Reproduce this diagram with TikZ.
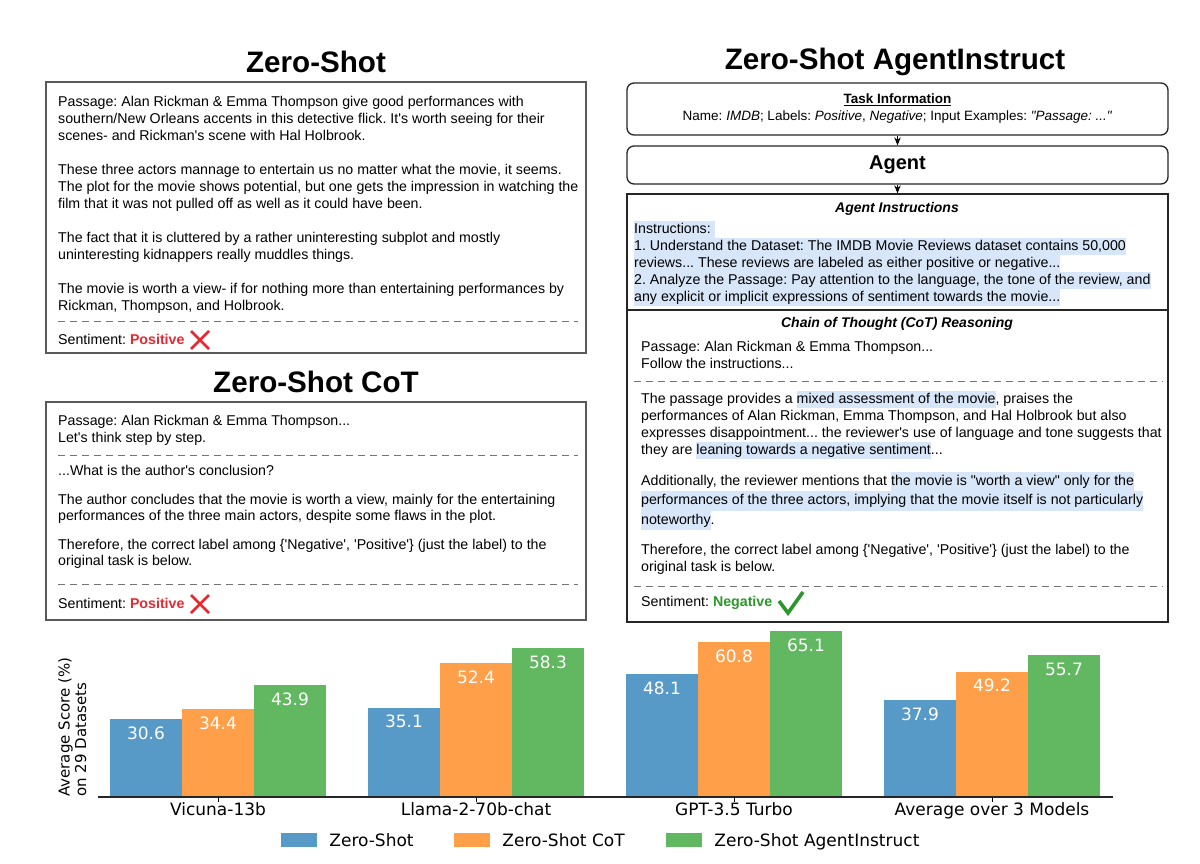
\documentclass[tikz,border=0pt]{standalone}
\usepackage{fontspec}
\setmainfont{Liberation Sans}[Ligatures=TeXOff]
\newfontfamily\chartfont{DejaVu Sans}
\usetikzlibrary{positioning,calc,arrows.meta}
\definecolor{zsblue}{RGB}{87,153,199}
\definecolor{zsorange}{RGB}{255,159,74}
\definecolor{zsgreen}{RGB}{97,184,97}
\definecolor{hlblue}{RGB}{215,230,248}
\definecolor{badred}{RGB}{232,40,48}
\definecolor{goodgreen}{RGB}{43,150,43}
\newcommand{\hlite}[1]{{\fboxsep=0pt\colorbox{hlblue}{\rule[-4.5pt]{0pt}{17pt}#1}}}
\newcommand{\hlwide}[1]{{\fboxsep=0pt\colorbox{hlblue}{\rule[-6pt]{0pt}{19.5pt}#1}}}
\begin{document}
\frenchspacing
\begin{tikzpicture}[x=1pt,y=-1pt,
  title/.style={font=\fontsize{29.6}{34}\selectfont\bfseries},
  plainbox/.style={draw=black!65,line width=1.3pt,inner sep=0pt},
  roundbox/.style={draw=black!85,line width=1.3pt,rounded corners=7pt,inner sep=0pt,minimum width=541pt},
  body/.style={anchor=north west,align=left,inner sep=0pt,font=\fontsize{14.2}{17}\selectfont},
  head/.style={inner sep=0pt,font=\fontsize{14}{17}\selectfont\bfseries\itshape},
  cutline/.style={draw=black!55,line width=0.9pt,dash pattern=on 7pt off 5pt},
  flow/.style={-{Stealth[length=8pt,width=6.5pt]},line width=1.1pt},
  val/.style={text=white,inner sep=0pt,font=\chartfont\fontsize{17}{20}\selectfont},
  cat/.style={anchor=base,inner sep=0pt,font=\chartfont\fontsize{17}{20}\selectfont},
  patch/.style={minimum width=36pt,minimum height=14pt,inner sep=0pt},
  leg/.style={anchor=west,inner sep=0pt,text height=12.5pt,text depth=0pt,font=\chartfont\fontsize{17}{20}\selectfont},
  node distance=12pt]
  \path[fill=white] (0,0) rectangle (1200,864);

  % titles
  \node[title] (tzs) at (316,62) {Zero-Shot};
  \node[title] (tcot) at (316,382) {Zero-Shot CoT};
  \node[title] (tai) at (895,62) {Zero-Shot AgentInstruct};

  % Zero-Shot
  \node[plainbox,minimum width=540pt,minimum height=271pt] (zsbox) at (316,217.5) {};
  \node[body] (zs1) at (58,96.5) {Passage: Alan Rickman \& Emma Thompson give good performances with\\southern/New Orleans accents in this detective flick. It's worth seeing for their\\scenes- and Rickman's scene with Hal Holbrook.};
  \node[body] (zs2) at (58,164.5) {These three actors mannage to entertain us no matter what the movie, it seems.\\The plot for the movie shows potential, but one gets the impression in watching the\\film that it was not pulled off as well as it could have been.};
  \node[body] (zs3) at (58,232.5) {The fact that it is cluttered by a rather uninteresting subplot and mostly\\uninteresting kidnappers really muddles things.};
  \node[body] (zs4) at (58,283.5) {The movie is worth a view- if for nothing more than entertaining performances by\\Rickman, Thompson, and Holbrook.};
  \draw[cutline] (58,321) -- (578,321);
  \node[body] (zsout) at (58,334.5) {Sentiment: \textcolor{badred}{\textbf{Positive}}};
  \draw[badred,line width=2.6pt] (191,331) -- (209,349) (191,349) -- (209,331);

  % Zero-Shot CoT
  \node[plainbox,minimum width=540pt,minimum height=218pt] (cotbox) at (316,511) {};
  \node[body] (cot1) at (58,415.5) {Passage: Alan Rickman \& Emma Thompson...\\Let's think step by step.};
  \draw[cutline] (58,455) -- (578,455);
  \node[body] (cot2) at (58,465.5) {...What is the author's conclusion?};
  \node[body,font=\fontsize{14.2}{16}\selectfont] (cot3) at (58,494.5) {The author concludes that the movie is worth a view, mainly for the entertaining\\performances of the three main actors, despite some flaws in the plot.};
  \node[body,font=\fontsize{14.2}{16}\selectfont] (cot4) at (58,539.5) {Therefore, the correct label among \{'Negative', 'Positive'\} (just the label) to the\\original task is below.};
  \draw[cutline] (58,584) -- (578,584);
  \node[body] (cotout) at (58,598.5) {Sentiment: \textcolor{badred}{\textbf{Positive}}};
  \draw[badred,line width=2.6pt] (191,595) -- (209,613) (191,613) -- (209,595);

  % Zero-Shot AgentInstruct
  \node[roundbox,minimum height=52pt,align=center,font=\fontsize{13.5}{17}\selectfont] (task) at (897.5,109)
    {\underline{\textbf{Task Information}}\\Name: \textit{IMDB}; Labels: \textit{Positive}, \textit{Negative}; Input Examples: \textit{"Passage: ..."}};
  \node[roundbox,minimum height=38pt,font=\fontsize{20}{24}\selectfont\bfseries] (agent) at (897.5,165) {Agent};
  \node[plainbox,draw=black!85,minimum width=541pt,minimum height=428pt] (aibox) at (897.5,408) {};
  \draw[flow] (task) -- (agent);
  \draw[flow] (agent) -- (aibox);
  \draw[draw=black!85,line width=1.3pt] (aibox.west |- 0,310) -- (aibox.east |- 0,310);

  \node[head] (insthead) at (897,209) {Agent Instructions};
  \node[body] (inst) at (634,220.5) {\hlite{Instructions: }\\\hlite{1. Understand the Dataset: The IMDB Movie Reviews dataset contains 50,000}\\\hlite{reviews... These reviews are labeled as either positive or negative...}\\\hlite{2. Analyze the Passage: Pay attention to the language, the tone of the review, and}\\\hlite{any explicit or implicit expressions of sentiment towards the movie...}};

  \node[head] (cothead) at (897,324) {Chain of Thought (CoT) Reasoning};
  \node[body] (ai1) at (641,341.5) {Passage: Alan Rickman \& Emma Thompson...\\Follow the instructions...};
  \draw[cutline] (634,381) -- (1163,381);
  \node[body] (ai2) at (641,390.5) {The passage provides a \hlite{mixed assessment of the movie}, praises the\\performances of Alan Rickman, Emma Thompson, and Hal Holbrook but also\\expresses disappointment... the reviewer's use of language and tone suggests that\\they are \hlite{leaning towards a negative sentiment}...};
  \node[body,font=\fontsize{14.2}{19.5}\selectfont] (ai3) at (641,471.5) {Additionally, the reviewer mentions that \hlwide{the movie is "worth a view" only for the}\\\hlwide{performances of the three actors, implying that the movie itself is not particularly}\\\hlwide{noteworthy}.};
  \node[body] (ai4) at (641,544.5) {Therefore, the correct label among \{'Negative', 'Positive'\} (just the label) to the\\original task is below.};
  \draw[cutline] (634,586) -- (1163,586);
  \node[body] (aiout) at (641,596.5) {Sentiment: \textcolor{goodgreen}{\textbf{Negative}}};
  \draw[goodgreen,line width=3.6pt] (779,601) -- (788,613) -- (803,592);

  % bar chart
  \foreach \grp/\a/\b/\c [count=\i from 0] in {Vicuna-13b/30.6/34.4/43.9,Llama-2-70b-chat/35.1/52.4/58.3,GPT-3.5 Turbo/48.1/60.8/65.1,Average over 3 Models/37.9/49.2/55.7}{
    \pgfmathsetmacro\cx{218+258*\i}
    \fill[zsblue] (\cx-108,797) rectangle (\cx-36,797-\a*2.55);
    \fill[zsorange] (\cx-36,797) rectangle (\cx+36,797-\b*2.55);
    \fill[zsgreen] (\cx+36,797) rectangle (\cx+108,797-\c*2.55);
    \node[val] (vz\i) at (\cx-72,797-\a*2.55+14) {\a};
    \node[val] (vc\i) at (\cx,797-\b*2.55+14) {\b};
    \node[val] (va\i) at (\cx+72,797-\c*2.55+14) {\c};
    \draw[line width=1pt] (\cx,797) -- (\cx,802);
    \node[cat] (cat\i) at (\cx,815) {\grp};
  }
  \draw[line width=1.3pt,black!85] (98,797) -- (1113,797);
  \node[rotate=90,anchor=north west,align=left,inner sep=0pt,font=\chartfont\fontsize{15}{16.5}\selectfont] (ylab) at (58,797) {Average Score (\%)\\on 29 Datasets};

  % legend
  \node[patch,fill=zsblue] (lz) at (299,840) {};
  \node[leg,right=of lz] (lzt) {Zero-Shot};
  \node[patch,fill=zsorange] (lc) at (472,840) {};
  \node[leg,right=of lc] (lct) {Zero-Shot CoT};
  \node[patch,fill=zsgreen] (la) at (684,840) {};
  \node[leg,right=of la] (lat) {Zero-Shot AgentInstruct};
\end{tikzpicture}
\end{document}
